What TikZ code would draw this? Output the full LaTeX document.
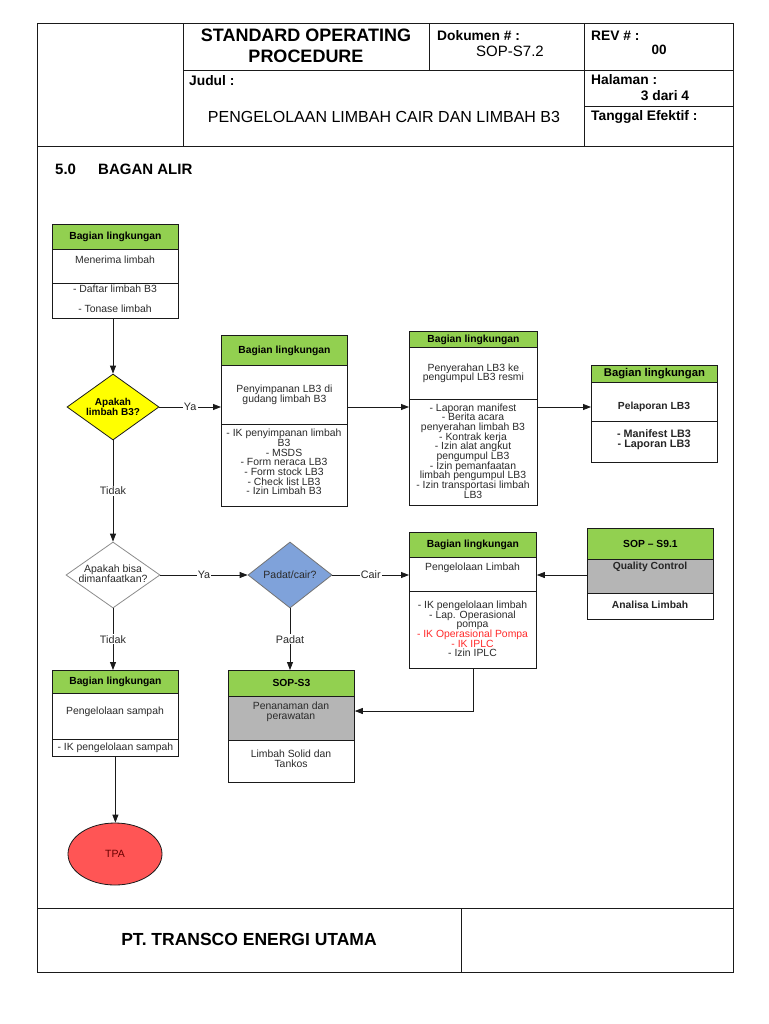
\documentclass[tikz,border=0pt]{standalone}
\usepackage{fontspec}
\setmainfont{Liberation Sans}
\usetikzlibrary{shapes.geometric,arrows.meta}
\definecolor{hgreen}{HTML}{92D050}
\definecolor{hgray}{HTML}{B5B5B5}
\definecolor{dyel}{HTML}{FFFF00}
\definecolor{dblue}{HTML}{7FA2DA}
\definecolor{tpared}{HTML}{FF5555}
\definecolor{tpatext}{HTML}{6A0000}
\definecolor{txt}{HTML}{2A2A2A}
\definecolor{redtxt}{HTML}{FF2A2A}
\definecolor{lnc}{HTML}{1A1A1A}
\begin{document}
\begin{tikzpicture}[x=1pt,y=-1pt,
 part/.style={draw=lnc, line width=0.8pt, minimum width=126pt, anchor=north west, inner sep=0pt, font=\fontsize{10.4}{9.7}\selectfont, text=txt, align=center, fill=white},
 hdr/.style={part, fill=hgreen, font=\bfseries\fontsize{10.3}{10}\selectfont, text=black},
 txtn/.style={font=\fontsize{10.4}{9.7}\selectfont, text=txt, align=center, inner sep=0pt},
 bt/.style={font=\bfseries\fontsize{10.3}{9.7}\selectfont, text=black!85, align=center, inner sep=0pt},
 arr/.style={draw=lnc, line width=0.8pt, -{Triangle[length=8pt,width=6pt]}},
 lbl/.style={fill=white, inner sep=1.2pt, font=\fontsize{10.8}{10}\selectfont, text=txt},
 frame/.style={draw=lnc, line width=1pt},
 hlab/.style={anchor=west, inner sep=0pt, font=\bfseries\fontsize{13.8}{14}\selectfont},
 dia/.style={diamond, line width=0.8pt, inner sep=0pt, minimum width=92pt, minimum height=66pt}
]
\useasboundingbox (0,0) rectangle (768,1024);
\fill[white] (0,0) rectangle (768,1024);
% ---- page frame ----
\draw[frame] (37,24) rectangle (733,972);
\draw[frame] (37,147) -- (733,147);
\draw[frame] (37,908) -- (733,908);
\draw[frame] (183,24) -- (183,147);
\draw[frame] (429,24) -- (429,71);
\draw[frame] (584,24) -- (584,147);
\draw[frame] (183,71) -- (733,71);
\draw[frame] (584,107) -- (733,107);
\draw[frame] (461,908) -- (461,972);
% ---- header texts ----
\node[align=center, inner sep=0pt, font=\bfseries\fontsize{18}{21}\selectfont] (sop) at (306,46) {STANDARD OPERATING\\PROCEDURE};
\node[hlab] (dok) at (437,36) {Dokumen \# :};
\node[inner sep=0pt, font=\fontsize{15}{15}\selectfont] (dokv) at (510,51) {SOP-S7.2};
\node[hlab] (rev) at (591,36) {REV \# :};
\node[inner sep=0pt, font=\bfseries\fontsize{13.5}{14}\selectfont] (revv) at (659,50) {00};
\node[hlab] (jud) at (189,81) {Judul :};
\node[inner sep=0pt, font=\fontsize{16}{16}\selectfont] (judv) at (384,117) {PENGELOLAAN LIMBAH CAIR DAN LIMBAH B3};
\node[hlab] (hal) at (591,80) {Halaman :};
\node[inner sep=0pt, font=\bfseries\fontsize{13.8}{14}\selectfont] (halv) at (665,96) {3 dari 4};
\node[hlab] (tgl) at (591,117) {Tanggal Efektif :};
\node[hlab, font=\bfseries\fontsize{15}{15}\selectfont] (sec) at (55,169) {5.0};
\node[hlab, font=\bfseries\fontsize{15}{15}\selectfont] (sect) at (98,169) {BAGAN ALIR};
\node[inner sep=0pt, font=\bfseries\fontsize{17.5}{18}\selectfont] (pt) at (249,939) {PT. TRANSCO ENERGI UTAMA};
% ---- Box A ----
\node[hdr, minimum height=25pt] (aH) at (52,224) {Bagian lingkungan};
\node[part, minimum height=34pt] (aM) at (52,249) {};
\node[part, minimum height=35pt] (aL) at (52,283) {};
\node[txtn] (aMt) at (115,260) {Menerima limbah};
\node[txtn] (aL1) at (115,289) {- Daftar limbah B3};
\node[txtn] (aL2) at (115,309) {- Tonase limbah};
% ---- Box B ----
\node[hdr, minimum height=30pt] (bH) at (221,335) {Bagian lingkungan};
\node[part, minimum height=59pt] (bM) at (221,365) {Penyimpanan LB3 di\\gudang limbah B3};
\node[part, minimum height=82pt] (bL) at (221,424) {};
\node[txtn] (bLt) at (284,462) {- IK penyimpanan limbah\\B3\\- MSDS\\- Form neraca LB3\\- Form stock LB3\\- Check list LB3\\- Izin Limbah B3};
% ---- Box C ----
\node[hdr, minimum width=128pt, minimum height=16pt] (cH) at (409,331) {Bagian lingkungan};
\node[part, minimum width=128pt, minimum height=52pt] (cM) at (409,347) {Penyerahan LB3 ke\\pengumpul LB3 resmi};
\node[part, minimum width=128pt, minimum height=106pt] (cL) at (409,399) {};
\node[txtn] (cLt) at (473,451) {- Laporan manifest\\- Berita acara\\penyerahan limbah B3\\- Kontrak kerja\\- Izin alat angkut\\pengumpul LB3\\- Izin pemanfaatan\\limbah pengumpul LB3\\- Izin transportasi limbah\\LB3};
% ---- Box E ----
\node[hdr, minimum height=17pt, font=\bfseries\fontsize{11.3}{11}\selectfont] (eH) at (591,365) {Bagian lingkungan};
\node[part, minimum height=39pt] (eM) at (591,382) {};
\node[part, minimum height=41pt] (eL) at (591,421) {};
\node[bt] (eMt) at (654,407) {Pelaporan LB3};
\node[bt, font=\bfseries\fontsize{10.8}{10}\selectfont] (eLt) at (654,440) {- Manifest LB3\\- Laporan LB3};
% ---- Box F ----
\node[hdr, minimum width=127pt, minimum height=25pt] (fH) at (409,532) {Bagian lingkungan};
\node[part, minimum width=127pt, minimum height=34pt] (fM) at (409,557) {};
\node[part, minimum width=127pt, minimum height=77pt] (fL) at (409,591) {};
\node[txtn] (fMt) at (472.5,568) {Pengelolaan Limbah};
\node[txtn] (fLt) at (472.5,629) {- IK pengelolaan limbah\\- Lap. Operasional\\pompa\\\textcolor{redtxt}{- IK Operasional Pompa}\\\textcolor{redtxt}{- IK IPLC}\\- Izin IPLC};
% ---- Box H ----
\node[hdr, minimum height=31pt] (hH) at (587,528) {SOP -- S9.1};
\node[part, fill=hgray, minimum height=34pt] (hM) at (587,559) {};
\node[part, minimum height=26pt] (hL) at (587,593) {};
\node[bt] (hMt) at (650,567) {Quality Control};
\node[bt] (hLt) at (650,605) {Analisa Limbah};
% ---- Box G ----
\node[hdr, minimum height=26pt] (gH) at (228,670) {SOP-S3};
\node[part, fill=hgray, minimum height=44pt] (gM) at (228,696) {};
\node[part, minimum height=42pt] (gL) at (228,740) {};
\node[txtn] (gMt) at (291,712) {Penanaman dan\\perawatan};
\node[txtn] (gLt) at (291,759) {Limbah Solid dan\\Tankos};
% ---- Box I ----
\node[hdr, minimum height=23pt] (iH) at (52,670) {Bagian lingkungan};
\node[part, minimum height=46pt] (iM) at (52,693) {};
\node[part, minimum height=17pt] (iL) at (52,739) {- IK pengelolaan sampah};
\node[txtn] (iMt) at (115,712) {Pengelolaan sampah};
% ---- decisions ----
\node[dia, draw=lnc, fill=dyel] (d1) at (113,407) {};
\node[bt, font=\bfseries\fontsize{10}{10}\selectfont, text=black] (d1t) at (113,407) {Apakah\\limbah B3?};
\node[dia, draw=black!45, fill=white, minimum width=94pt] (d2) at (113,575) {};
\node[txtn, font=\fontsize{10.5}{10}\selectfont] (d2t) at (113,574) {Apakah bisa\\dimanfaatkan?};
\node[dia, draw=black!55, fill=dblue, minimum width=84pt] (d3) at (290,575) {};
\node[txtn, font=\fontsize{10.5}{10}\selectfont] (d3t) at (290,575) {Padat/cair?};
% ---- TPA ----
\node[ellipse, draw=lnc, line width=0.8pt, fill=tpared, minimum width=94pt, minimum height=62pt, text=tpatext, font=\fontsize{10.5}{10}\selectfont] (tpa) at (115,854) {TPA};
% ---- connectors ----
\coordinate (gin) at (354,711);
\draw[arr] (aL.south -| d1.north) -- (d1.north);
\draw[arr] (d1.east) -- node[lbl]{Ya} (d1.east -| bM.west);
\draw[arr] (d1.east -| bM.east) -- (d1.east -| cL.west);
\draw[arr] (d1.east -| cL.east) -- (d1.east -| eM.west);
\draw[arr] (d1.south) -- node[lbl]{Tidak} (d2.north);
\draw[arr] (d2.east) -- node[lbl]{Ya} (d3.west);
\draw[arr] (d3.east) -- node[lbl]{Cair} (d3.east -| fM.west);
\draw[arr] (d3.south) -- node[lbl]{Padat} (d3.south |- gH.north);
\draw[arr] (d3.east -| hM.west) -- (d3.east -| fM.east);
\draw[arr] (fL.south) |- (gin -| gM.east);
\draw[arr] (d2.south) -- node[lbl]{Tidak} (d2.south |- iH.north);
\draw[arr] (iL.south) -- (iL.south |- tpa.north);
\end{tikzpicture}
\end{document}
